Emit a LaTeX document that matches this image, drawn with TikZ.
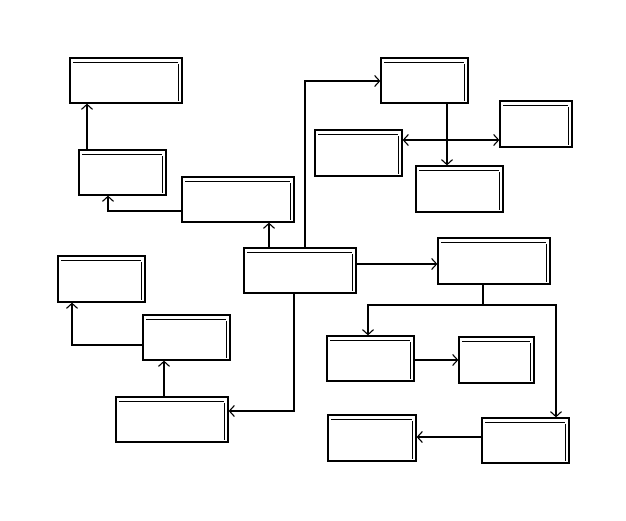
\documentclass[tikz,border=0pt]{standalone}
\usetikzlibrary{fit,arrows.meta}
\begin{document}
\begin{tikzpicture}[x=1pt,y=-1pt,
  box/.style={draw,line width=1.3pt,inner sep=0pt},
  inner/.style={line width=1.1pt},
  tip/.tip={Straight Barb[length=5pt,width=11pt,line width=1.1pt]},
  conn/.style={line width=1.1pt,-tip}]
\useasboundingbox (0,0) rectangle (626,521);
\newcommand\bx[5]{\node[box,fit={(#2,#3)(#4,#5)}] (#1) {};}
\bx{A}{70}{58}{182}{103}
\bx{B}{79}{150}{166}{195}
\bx{C}{182}{177}{294}{222}
\bx{D}{244}{248}{356}{293}
\bx{E}{381}{58}{468}{103}
\bx{F}{315}{130}{402}{176}
\bx{G}{500}{101}{572}{147}
\bx{H}{416}{166}{503}{212}
\bx{I}{438}{238}{550}{284}
\bx{J}{58}{256}{145}{302}
\bx{K}{143}{315}{230}{360}
\bx{L}{116}{397}{228}{442}
\bx{M}{327}{336}{414}{381}
\bx{N}{459}{337}{534}{383}
\bx{O}{328}{415}{416}{461}
\bx{P}{482}{418}{569}{463}
\foreach \n in {A,B,C,D,E,F,G,H,I,J,K,L,M,N,O,P}{
  \draw[inner] ([shift={(4pt,-5pt)}]\n.north west) -- ([shift={(-5pt,-5pt)}]\n.north east);
  \draw[inner] ([shift={(-4pt,-7pt)}]\n.north east) -- ([shift={(-4pt,3pt)}]\n.south east);
}
\draw[conn] (B.north -| 87,0) -- (A.south -| 87,0);
\draw[conn] (C.west |- 0,211) -- (108,211) -- (B.south -| 108,0);
\draw[conn] (D.north -| 269,0) -- (C.south -| 269,0);
\draw[conn] (D.north -| 305,0) -- (305,81) -- (E.west |- 0,81);
\draw[conn] (E.south -| 447,0) -- (H.north -| 447,0);
\draw[line width=1.1pt,tip-tip] (F.east |- 0,140) -- (G.west |- 0,140);
\draw[conn] (D.east |- 0,264) -- (I.west |- 0,264);
\draw[line width=1.1pt] (I.south -| 483,0) -- (483,305);
\draw[conn] (556,305) -- (368,305) -- (M.north -| 368,0);
\draw[conn] (483,305) -- (556,305) -- (P.north -| 556,0);
\draw[conn] (M.east |- 0,360) -- (N.west |- 0,360);
\draw[conn] (P.west |- 0,437) -- (O.east |- 0,437);
\draw[conn] (D.south -| 294,0) -- (294,411) -- (L.east |- 0,411);
\draw[conn] (L.north -| 164,0) -- (K.south -| 164,0);
\draw[conn] (K.west |- 0,345) -- (72,345) -- (J.south -| 72,0);
\end{tikzpicture}
\end{document}
